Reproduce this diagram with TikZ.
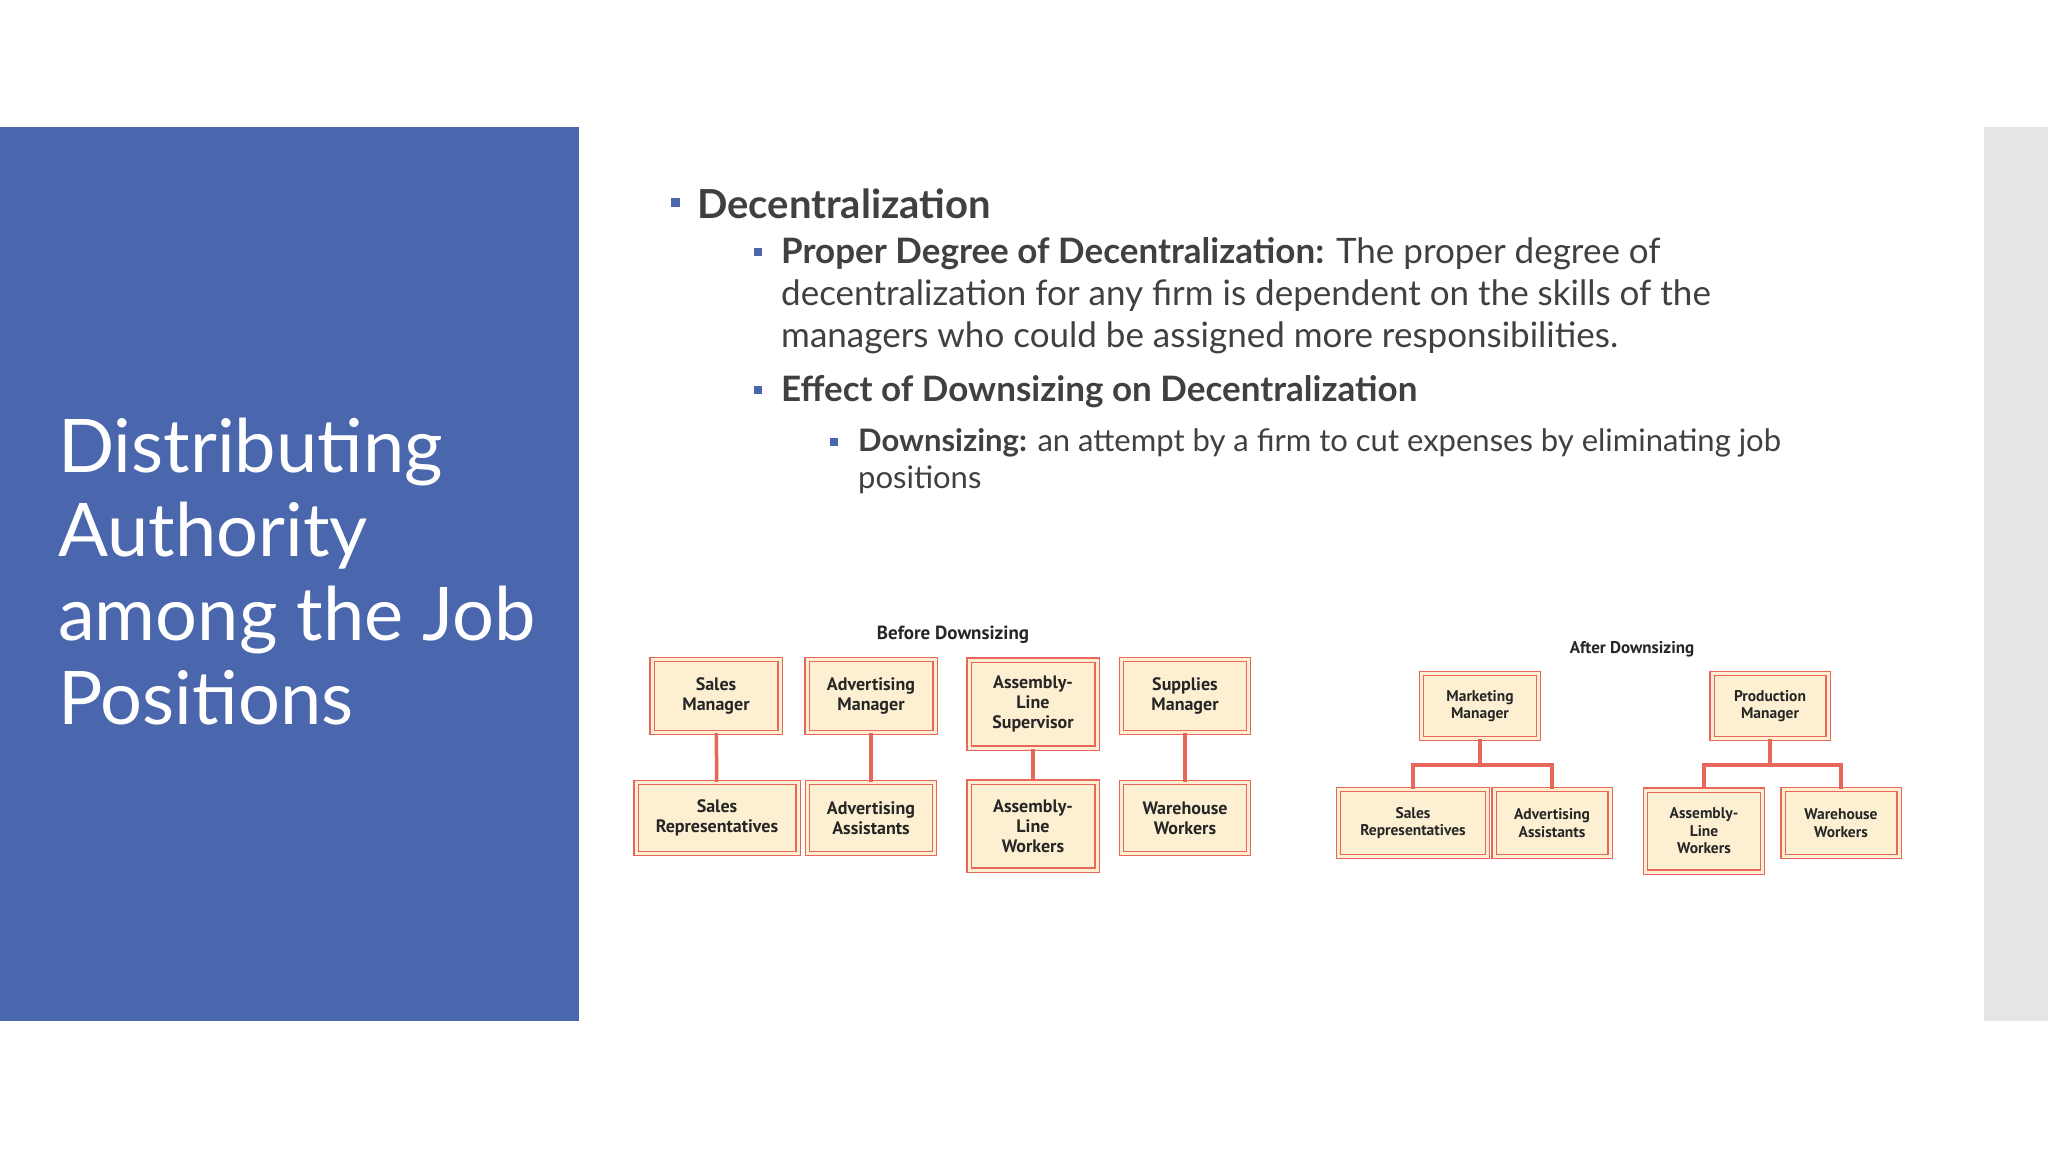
\documentclass[tikz,border=0pt]{standalone}
\usepackage{fontspec}
\setmainfont{Lato}
\newfontfamily\boxfont{PT Sans}
\definecolor{panel}{HTML}{4A66AD}
\definecolor{txt}{HTML}{404040}
\definecolor{orgred}{HTML}{E8675A}
\definecolor{cream}{HTML}{FDF0D2}
\begin{document}
\begin{tikzpicture}[x=1pt,y=-1pt,
  orgbox/.style={draw=orgred,line width=1.4pt,double=cream,double distance=3pt,fill=cream,
    inner sep=0pt,align=center,font=\boxfont\bfseries\fontsize{18}{20}\selectfont,text=black!85},
  smallbox/.style={orgbox,font=\boxfont\bfseries\fontsize{15.5}{17.5}\selectfont},
  link/.style={draw=orgred,line width=3.5pt},
  bul/.style={fill=panel,minimum size=9pt,inner sep=0pt},
  btext/.style={anchor=west,inner sep=0pt,text=txt,align=left}]
\useasboundingbox (0,0) rectangle (2048,1152);
\fill[white] (0,0) rectangle (2048,1152);
\fill[panel] (0,127) rectangle (579,1021);
\fill[black!10] (1984,127) rectangle (2048,1021);
\node[anchor=west,text=white,align=left,inner sep=0pt,font=\fontsize{74}{84}\selectfont] (title) at (58,572)
 {Distributing\\Authority\\among the Job\\Positions};
% bullets
\node[bul] (b1) at (675,202) {};
\node[btext,font=\bfseries\fontsize{40}{46}\selectfont] (t1) at (697,204) {Decentralization};
\node[bul,minimum size=8pt] (b2) at (758,252) {};
\node[btext,anchor=north west,font=\fontsize{35}{42}\selectfont] (t2) at (781,237)
 {\textbf{Proper Degree of Decentralization:} The proper degree of\\decentralization for any firm is dependent on the skills of the\\managers who could be assigned more responsibilities.};
\node[bul,minimum size=8pt] (b3) at (758,390) {};
\node[btext,font=\bfseries\fontsize{35}{42}\selectfont] (t3) at (781,392) {Effect of Downsizing on Decentralization};
\node[bul,minimum size=8pt] (b4) at (834,442) {};
\node[btext,anchor=north west,font=\fontsize{31}{37}\selectfont] (t4) at (858,428)
 {\textbf{Downsizing:} an attempt by a firm to cut expenses by eliminating job\\positions};
% before
\node[font=\boxfont\bfseries\fontsize{19}{21}\selectfont,text=black!85] (bt) at (953,635) {Before Downsizing};
\node[orgbox,minimum width=128,minimum height=73] (sm) at (716,696) {Sales\\Manager};
\node[orgbox,minimum width=128,minimum height=73] (am) at (871,696) {Advertising\\Manager};
\node[orgbox,minimum width=128,minimum height=88] (as) at (1033,704) {Assembly-\\Line\\Supervisor};
\node[orgbox,minimum width=127,minimum height=73] (spm) at (1185,696) {Supplies\\Manager};
\node[orgbox,minimum width=162,minimum height=71] (sr) at (717,818) {Sales\\Representatives};
\node[orgbox,minimum width=127,minimum height=71] (aa) at (871,818) {Advertising\\Assistants};
\node[orgbox,minimum width=128,minimum height=88] (alw) at (1033,826) {Assembly-\\Line\\Workers};
\node[orgbox,minimum width=127,minimum height=71] (ww) at (1185,818) {Warehouse\\Workers};
\draw[link] (sm) -- (sr);
\draw[link] (am) -- (aa);
\draw[link] (as) -- (alw);
\draw[link] (spm) -- (ww);
% after
\node[font=\boxfont\bfseries\fontsize{17}{19}\selectfont,text=black!85] (at) at (1632,649) {After Downsizing};
\node[smallbox,minimum width=117,minimum height=65] (mm) at (1480,706) {Marketing\\Manager};
\node[smallbox,minimum width=116,minimum height=65] (pm) at (1770,706) {Production\\Manager};
\node[smallbox,minimum width=149,minimum height=67] (sr2) at (1413,823) {Sales\\Representatives};
\node[smallbox,minimum width=116,minimum height=67] (aa2) at (1552,823) {Advertising\\Assistants};
\node[smallbox,minimum width=117,minimum height=82] (alw2) at (1704,831) {Assembly-\\Line\\Workers};
\node[smallbox,minimum width=116,minimum height=67] (ww2) at (1841,823) {Warehouse\\Workers};
\coordinate (j1) at (1480,765);
\coordinate (j2) at (1770,765);
\draw[link] (mm.south) -- (j1);
\draw[link] (sr2.north) |- (j1) -| (aa2.north);
\draw[link] (pm.south) -- (j2);
\draw[link] (alw2.north) |- (j2) -| (ww2.north);
\end{tikzpicture}
\end{document}
